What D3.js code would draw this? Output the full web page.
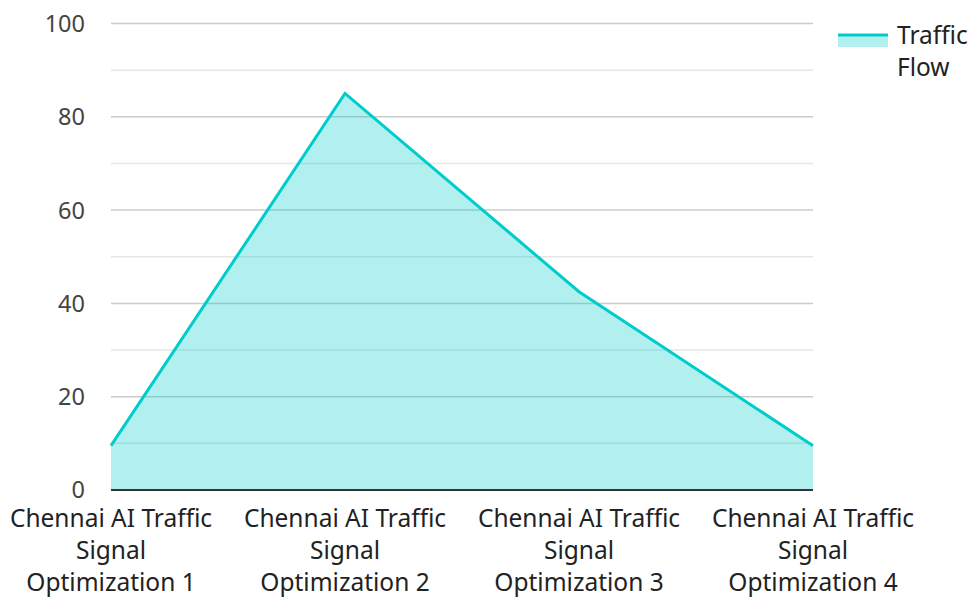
<!DOCTYPE html>
<html><head><meta charset="utf-8">
<script src="https://cdn.jsdelivr.net/npm/d3@7"></script>
<style>body{margin:0;background:#fff;} svg{display:block;font-family:"Noto Sans",sans-serif;}</style>
</head><body><svg id="c" width="971" height="597"></svg>
<script>
const categories = ["Chennai AI Traffic Signal Optimization 1","Chennai AI Traffic Signal Optimization 2","Chennai AI Traffic Signal Optimization 3","Chennai AI Traffic Signal Optimization 4"];
const categoryLines = [["Chennai AI Traffic","Signal","Optimization 1"],["Chennai AI Traffic","Signal","Optimization 2"],["Chennai AI Traffic","Signal","Optimization 3"],["Chennai AI Traffic","Signal","Optimization 4"]];
const trafficFlow = [9.5, 85, 42.5, 9.5];
const seriesName = ["Traffic","Flow"];
const yTicks = [0,20,40,60,80,100];
const yMinor = [10,30,50,70,90];

const svg = d3.select("#c");
const L=111, R=813, T=23.5, B=490;
const x = d3.scalePoint().domain(categories).range([L,R]);
const y = d3.scaleLinear().domain([0,100]).range([B,T]);

svg.append("g").selectAll("line").data(yMinor).join("line")
  .attr("x1",L).attr("x2",R).attr("y1",d=>y(d)).attr("y2",d=>y(d))
  .attr("stroke","#e6e6e6").attr("stroke-width",1.5);
svg.append("g").selectAll("line").data(yTicks.filter(d=>d>0)).join("line")
  .attr("x1",L).attr("x2",R).attr("y1",d=>y(d)).attr("y2",d=>y(d))
  .attr("stroke","#cccccc").attr("stroke-width",1.5);

const data = categories.map((c,i)=>({c,v:trafficFlow[i]}));
svg.append("path").datum(data)
  .attr("d", d3.area().x(d=>x(d.c)).y0(B).y1(d=>y(d.v)))
  .attr("fill","#00cccc").attr("fill-opacity",0.3);
svg.append("path").datum(data)
  .attr("d", d3.line().x(d=>x(d.c)).y(d=>y(d.v)))
  .attr("fill","none").attr("stroke","#00cccc").attr("stroke-width",3);

svg.append("line").attr("x1",L).attr("x2",R).attr("y1",B).attr("y2",B)
  .attr("stroke","#333").attr("stroke-width",2);

svg.append("g").selectAll("text").data(yTicks).join("text")
  .attr("x",85).attr("y",d=>y(d)).attr("dy","0.36em").attr("text-anchor","end")
  .attr("font-size",23.5).attr("fill","#444").text(d=>d);

const xl = svg.append("g").selectAll("text").data(categories).join("text")
  .attr("text-anchor","middle").attr("font-size",24.5).attr("fill","#222")
  .attr("transform",d=>`translate(${x(d)},527)`);
xl.each(function(d,i){
  d3.select(this).selectAll("tspan").data(categoryLines[i]).join("tspan")
    .attr("x",0).attr("y",(t,j)=>j*32).text(t=>t);
});

const lg = svg.append("g");
lg.append("rect").attr("x",838).attr("y",34).attr("width",50).attr("height",13).attr("fill","#00cccc").attr("fill-opacity",0.3);
lg.append("line").attr("x1",838).attr("x2",888).attr("y1",35).attr("y2",35).attr("stroke","#00cccc").attr("stroke-width",3);
lg.append("text").attr("x",897).attr("y",44).attr("font-size",24.5).attr("fill","#222")
  .selectAll("tspan").data(seriesName).join("tspan").attr("x",897).attr("y",(t,j)=>44+j*32).text(t=>t);
</script></body></html>
